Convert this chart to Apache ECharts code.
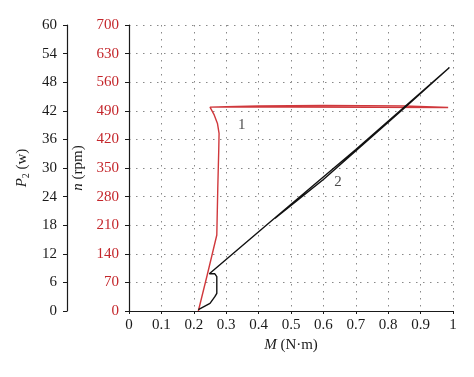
<!DOCTYPE html>
<html>
<head>
<meta charset="utf-8">
<script src="https://cdn.jsdelivr.net/npm/echarts@6/dist/echarts.min.js"></script>
<style>
    html, body {margin: 0; padding: 0; background: #fff;}
    #chart {width: 474px; height: 377px;}
</style>
</head>
<body>
<div id="chart"></div>
<script>
const chartElement = document.getElementById('chart');
const myChart = echarts.init(chartElement);

// curve 1: speed n (rpm) against torque M (N·m)
const speedCurve = [
    [0.214, 0], [0.242, 90], [0.271, 186], [0.274, 300], [0.277, 394],
    [0.278, 435], [0.273, 459], [0.263, 480], [0.25, 499],
    [0.5, 499], [0.75, 498.5], [0.985, 498],
    [0.85, 502], [0.6, 503], [0.4, 502], [0.3, 500], [0.25, 499],
];

// curve 2: output power P2 (w) against torque M (N·m)
const powerCurve = [
    [0.214, 0.3], [0.25, 1.6], [0.265, 3.0], [0.271, 3.7], [0.271, 7.2],
    [0.265, 7.8], [0.248, 7.8],
    [0.45, 19.5], [0.7, 33.9], [0.989, 51.1],
    [0.85, 42.6], [0.6, 27.6], [0.45, 19.4],
];

// curve numbers written on the plot
const speedTag = [[0.348, 455]];
const powerTag = [[0.645, 27]];

const serif = 'Liberation Serif';
const red = '#c4262b';
const ink = '#1a1a1a';

const option = {
    animation: false,
    grid: {left: 129, right: 21, top: 25, bottom: 66},
    xAxis: {
        type: 'value',
        min: 0,
        max: 1,
        interval: 0.1,
        name: '{i|M} (N·m)',
        nameLocation: 'middle',
        nameGap: 24,
        nameTextStyle: {
            color: ink, fontFamily: serif, fontSize: 15,
            rich: {i: {fontStyle: 'italic', fontFamily: serif, fontSize: 15, color: ink}},
        },
        axisLine: {lineStyle: {color: ink, width: 1.2}},
        axisTick: {length: 3, lineStyle: {color: ink}},
        axisLabel: {color: ink, fontFamily: serif, fontSize: 15, margin: 7},
        splitLine: {show: true, lineStyle: {color: '#888', type: [1.5, 5.5], width: 1}},
    },
    yAxis: [
        {
            type: 'value',
            min: 0,
            max: 700,
            interval: 70,
            position: 'left',
            name: '{i|n} (rpm)',
            nameLocation: 'middle',
            nameRotate: 90,
            nameGap: 39,
            nameTextStyle: {
                color: ink, fontFamily: serif, fontSize: 15,
                rich: {i: {fontStyle: 'italic', fontFamily: serif, fontSize: 15, color: ink}},
            },
            axisLine: {show: true, onZero: false, lineStyle: {color: ink, width: 1.2}},
            axisTick: {show: true, length: 4, lineStyle: {color: ink}},
            axisLabel: {color: red, fontFamily: serif, fontSize: 15, margin: 10},
            splitLine: {show: true, lineStyle: {color: '#888', type: [1.5, 5.5], width: 1}},
        },
        {
            type: 'value',
            min: 0,
            max: 60,
            interval: 6,
            position: 'left',
            offset: 62,
            name: '{i|P}{s|2} (w)',
            nameLocation: 'middle',
            nameRotate: 90,
            nameGap: 29,
            nameTextStyle: {
                color: ink, fontFamily: serif, fontSize: 15,
                rich: {
                    i: {fontStyle: 'italic', fontFamily: serif, fontSize: 15, color: ink},
                    s: {fontFamily: serif, fontSize: 10, color: ink, padding: [8, 0, 0, 0]},
                },
            },
            axisLine: {show: true, onZero: false, lineStyle: {color: ink, width: 1.2}},
            axisTick: {show: true, length: 4, lineStyle: {color: ink}},
            axisLabel: {color: ink, fontFamily: serif, fontSize: 15, margin: 10},
            splitLine: {show: false},
        },
    ],
    series: [
        {
            name: 'n',
            type: 'line',
            yAxisIndex: 0,
            data: speedCurve,
            showSymbol: false,
            lineStyle: {color: '#d0383c', width: 1.4},
        },
        {
            name: 'P2',
            type: 'line',
            yAxisIndex: 1,
            data: powerCurve,
            showSymbol: false,
            lineStyle: {color: '#111', width: 1.4},
        },
        {
            type: 'scatter',
            yAxisIndex: 0,
            data: speedTag,
            symbolSize: 0,
            label: {show: true, position: 'inside', formatter: '1', color: ink, fontFamily: serif, fontSize: 15},
        },
        {
            type: 'scatter',
            yAxisIndex: 1,
            data: powerTag,
            symbolSize: 0,
            label: {show: true, position: 'inside', formatter: '2', color: ink, fontFamily: serif, fontSize: 15},
        },
    ],
};

myChart.setOption(option);
</script>
</body>
</html>
